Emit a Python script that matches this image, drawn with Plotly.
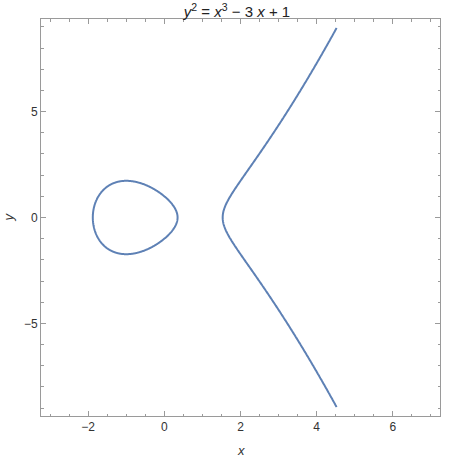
import numpy as np
import plotly.graph_objects as go

# curve: y^2 = x^3 + a x + b
coef_a = -3.0
coef_b = 1.0
y_limit = 8.95          # contour region clipped at |y| <= y_limit
x_range = [-3.24, 7.24]
y_range = [-9.37, 9.37]
x_ticks = [-2, 0, 2, 4, 6]
y_ticks = [-5, 0, 5]

def real_roots(yv):
    r = np.roots([1.0, 0.0, coef_a, coef_b - yv * yv])
    r = np.sort(r[np.abs(r.imag) < 1e-7].real)
    return r

# right (unbounded) branch: largest root for each y
ys_right = np.linspace(-y_limit, y_limit, 801)
xs_right = np.array([real_roots(y)[-1] for y in ys_right])

# oval: two smallest roots; max height where f'(x)=0 at x=-sqrt(-a/3)
xc = -np.sqrt(-coef_a / 3.0)
ymax = np.sqrt(xc ** 3 + coef_a * xc + coef_b)
t = np.linspace(-np.pi / 2, np.pi / 2, 401)
ys_o = ymax * np.sin(t) * (1 - 1e-9)
left = []
mid = []
for y in ys_o:
    r = real_roots(y)
    left.append(r[0])
    mid.append(r[1] if len(r) > 2 else r[0])
xs_oval = np.concatenate([left, mid[::-1], [left[0]]])
ys_oval = np.concatenate([ys_o, ys_o[::-1], [ys_o[0]]])

line_color = "#5E81B5"
fig = go.Figure()
fig.add_trace(go.Scatter(x=xs_oval, y=ys_oval, mode="lines",
                         line=dict(color=line_color, width=2, simplify=False), hoverinfo="skip"))
fig.add_trace(go.Scatter(x=xs_right, y=ys_right, mode="lines",
                         line=dict(color=line_color, width=2, simplify=False), hoverinfo="skip"))

frame = "#9a9a9a"
font_family = "Liberation Sans, Arial, sans-serif"
tickfont = dict(family=font_family, size=12, color="#333333")
common = dict(showline=True, linecolor=frame, linewidth=1, mirror="ticks",
              ticks="inside", ticklen=5, tickcolor=frame, tickwidth=1,
              showgrid=False, zeroline=False, tickfont=tickfont,
              fixedrange=True)
fig.update_xaxes(range=x_range, tickvals=x_ticks,
                 minor=dict(dtick=0.5, ticks="inside", ticklen=2.5, tickcolor=frame, showgrid=False),
                 **common)
fig.update_yaxes(range=y_range, tickvals=y_ticks,
                 minor=dict(dtick=1, ticks="inside", ticklen=2.5, tickcolor=frame, showgrid=False),
                 **common)

W, H = 474, 462
fig.update_layout(
    width=W, height=H,
    margin=dict(l=41, r=34, t=19, b=46),
    paper_bgcolor="white", plot_bgcolor="white",
    showlegend=False,
    title=dict(text="<i>y</i><sup>2</sup> = <i>x</i><sup>3</sup> \u2212 3 <i>x</i> + 1",
               x=0.5, xanchor="center", y=1 - 12 / H, yanchor="middle",
               font=dict(family=font_family, size=15, color="#222222")),
    annotations=[
        dict(text="<i>x</i>", xref="paper", yref="paper", x=0.5, y=-34 / 397,
             xanchor="center", yanchor="middle", showarrow=False,
             font=dict(family=font_family, size=13, color="#333333")),
        dict(text="<i>y</i>", xref="paper", yref="paper", x=-33 / 399, y=0.5,
             xanchor="center", yanchor="middle", showarrow=False, textangle=-90,
             font=dict(family=font_family, size=13, color="#333333")),
    ],
)

# remove the browser's default 8px page margin so the figure sits at (0, 0)
fig.write_html("out.html",
               config={"displayModeBar": False, "staticPlot": True},
               post_script="document.body.style.margin='0';document.body.style.overflow='hidden';")
